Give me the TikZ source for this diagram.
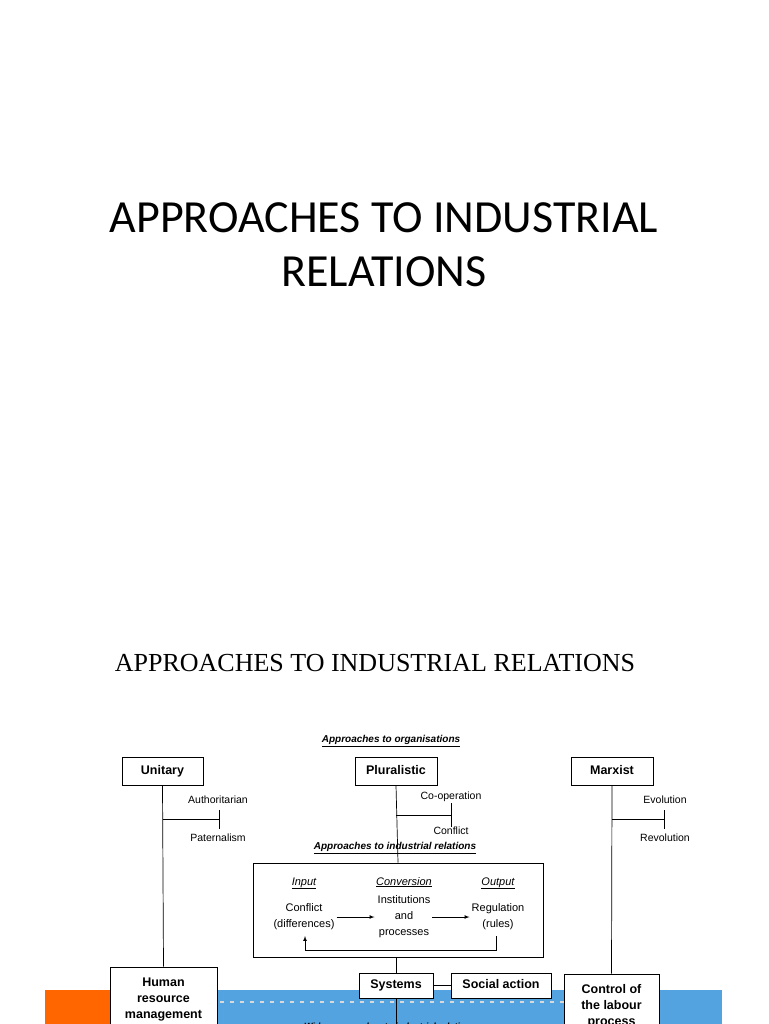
\documentclass[tikz,border=0pt]{standalone}
\usepackage{fontspec}
\setmainfont{Liberation Sans}
\newfontfamily\calib{Carlito}
\newfontfamily\tms{Liberation Serif}
\begin{document}
\begin{tikzpicture}[x=1pt,y=-1pt,
  box/.style={draw,line width=0.9pt,fill=white,align=center,font=\fontsize{12.5}{16}\selectfont\bfseries,inner sep=0pt},
  one/.style={text height=9pt,text depth=2.5pt},
  lab/.style={font=\fontsize{10.5}{12}\selectfont,inner sep=0pt},
  ln/.style={line width=0.7pt},
  hd/.style={font=\fontsize{10}{12}\selectfont\bfseries\itshape,inner sep=0pt,text height=8pt,text depth=2.5pt}]
\useasboundingbox (0,0) rectangle (768,1024);
\clip (0,0) rectangle (768,1024);
\fill[white] (0,0) rectangle (768,1024);
\node[font=\calib\fontsize{46}{54}\selectfont,align=center] (title) at (384,245) {APPROACHES TO INDUSTRIAL\\RELATIONS};
\node[font=\tms\fontsize{26}{30}\selectfont] (sub) at (375,663) {APPROACHES TO INDUSTRIAL RELATIONS};
% band
\fill[orange!80!red] (45,990) rectangle (150,1024);
\fill[cyan!70!blue!70] (150,990) rectangle (722,1024);
\draw[white!70!gray,line width=2pt,dash pattern=on 4pt off 6pt] (160,1002) -- (565,1002);
\node[hd] (aorg) at (391,740) {\underline{Approaches to organisations}};
\node[box,one,minimum width=81pt,minimum height=28pt] (uni) at (162.5,771) {Unitary};
\node[box,one,minimum width=82pt,minimum height=28pt] (plu) at (396,771) {Pluralistic};
\node[box,one,minimum width=82pt,minimum height=28pt] (mar) at (612,771) {Marxist};
\node[box,minimum width=107pt,minimum height=66pt] (hrm) at (163.5,1000) {Human\\resource\\management};
\node[box,minimum width=95pt,minimum height=64pt] (ctl) at (611.5,1006) {Control of\\the labour\\process};
\node[box,one,minimum width=74pt,minimum height=25pt] (sys) at (396,985.5) {Systems};
\node[box,one,minimum width=100pt,minimum height=25pt] (soc) at (501,985.5) {Social action};
\node[draw,line width=0.9pt,minimum width=290pt,minimum height=94pt,inner sep=0pt] (big) at (398,910) {};
% unitary
\coordinate (ub) at (163,819); \coordinate (ut) at (219,819);
\draw[ln] (uni.south) -- (hrm.north);
\draw[ln] (ub) -- (ut); \draw[ln] (219,810) -- (219,829);
\node[lab] (auth) at (218,800) {Authoritarian};
\node[lab] (pat) at (218,838) {Paternalism};
% marxist
\coordinate (mb) at (612,819); \coordinate (mt) at (664,819);
\draw[ln] (mar.south) -- (ctl.north);
\draw[ln] (mb) -- (mt); \draw[ln] (664,810) -- (664,829);
\node[lab] (evo) at (665,800) {Evolution};
\node[lab] (rev) at (665,838) {Revolution};
% pluralistic
\coordinate (pb) at (396,815); \coordinate (pt) at (451,815);
\draw[ln] (plu.south) -- (big.north);
\draw[ln] (pb) -- (pt); \draw[ln] (451,803) -- (451,827);
\node[lab] (coop) at (451,797) {Co-operation};
\node[lab] (conf) at (451,831) {Conflict};
\node[hd] (air) at (395,847) {\underline{Approaches to industrial relations}};
% box content
\tikzset{ih/.style={lab,font=\fontsize{11}{12}\selectfont\itshape,text height=8.5pt,text depth=2.5pt}}
\node[ih] (inp) at (304,882) {\underline{Input}};
\node[ih] (conv) at (404,882) {\underline{Conversion}};
\node[ih] (outp) at (498,882) {\underline{Output}};
\node[lab,align=center,font=\fontsize{11}{16}\selectfont] (cd) at (304,917) {Conflict\\(differences)};
\node[lab,align=center,font=\fontsize{11}{16}\selectfont] (ip) at (404,917) {Institutions\\and\\processes};
\node[lab,align=center,font=\fontsize{11}{16}\selectfont] (rr) at (498,917) {Regulation\\(rules)};
\draw[ln,-latex] (cd.east)+(2,0) -- ([xshift=-3pt]ip.west |- cd.east);
\draw[ln,-latex] (ip.east)+(2,0) -- ([xshift=-2pt]rr.west |- ip.east);
\draw[ln,-latex] (496,936) -- (496,950) -- (305,950) -- (305,936);
% lower
\draw[ln] (big.south -| sys.north) -- (sys.north);
\draw[ln] (sys.east) -- (soc.west);
\draw[ln] (sys.south) -- (396,1024);
\node[hd,font=\fontsize{9}{11}\selectfont\bfseries\itshape] (wider) at (390,1027) {\underline{Wider approaches to industrial relations}};
\end{tikzpicture}
\end{document}
